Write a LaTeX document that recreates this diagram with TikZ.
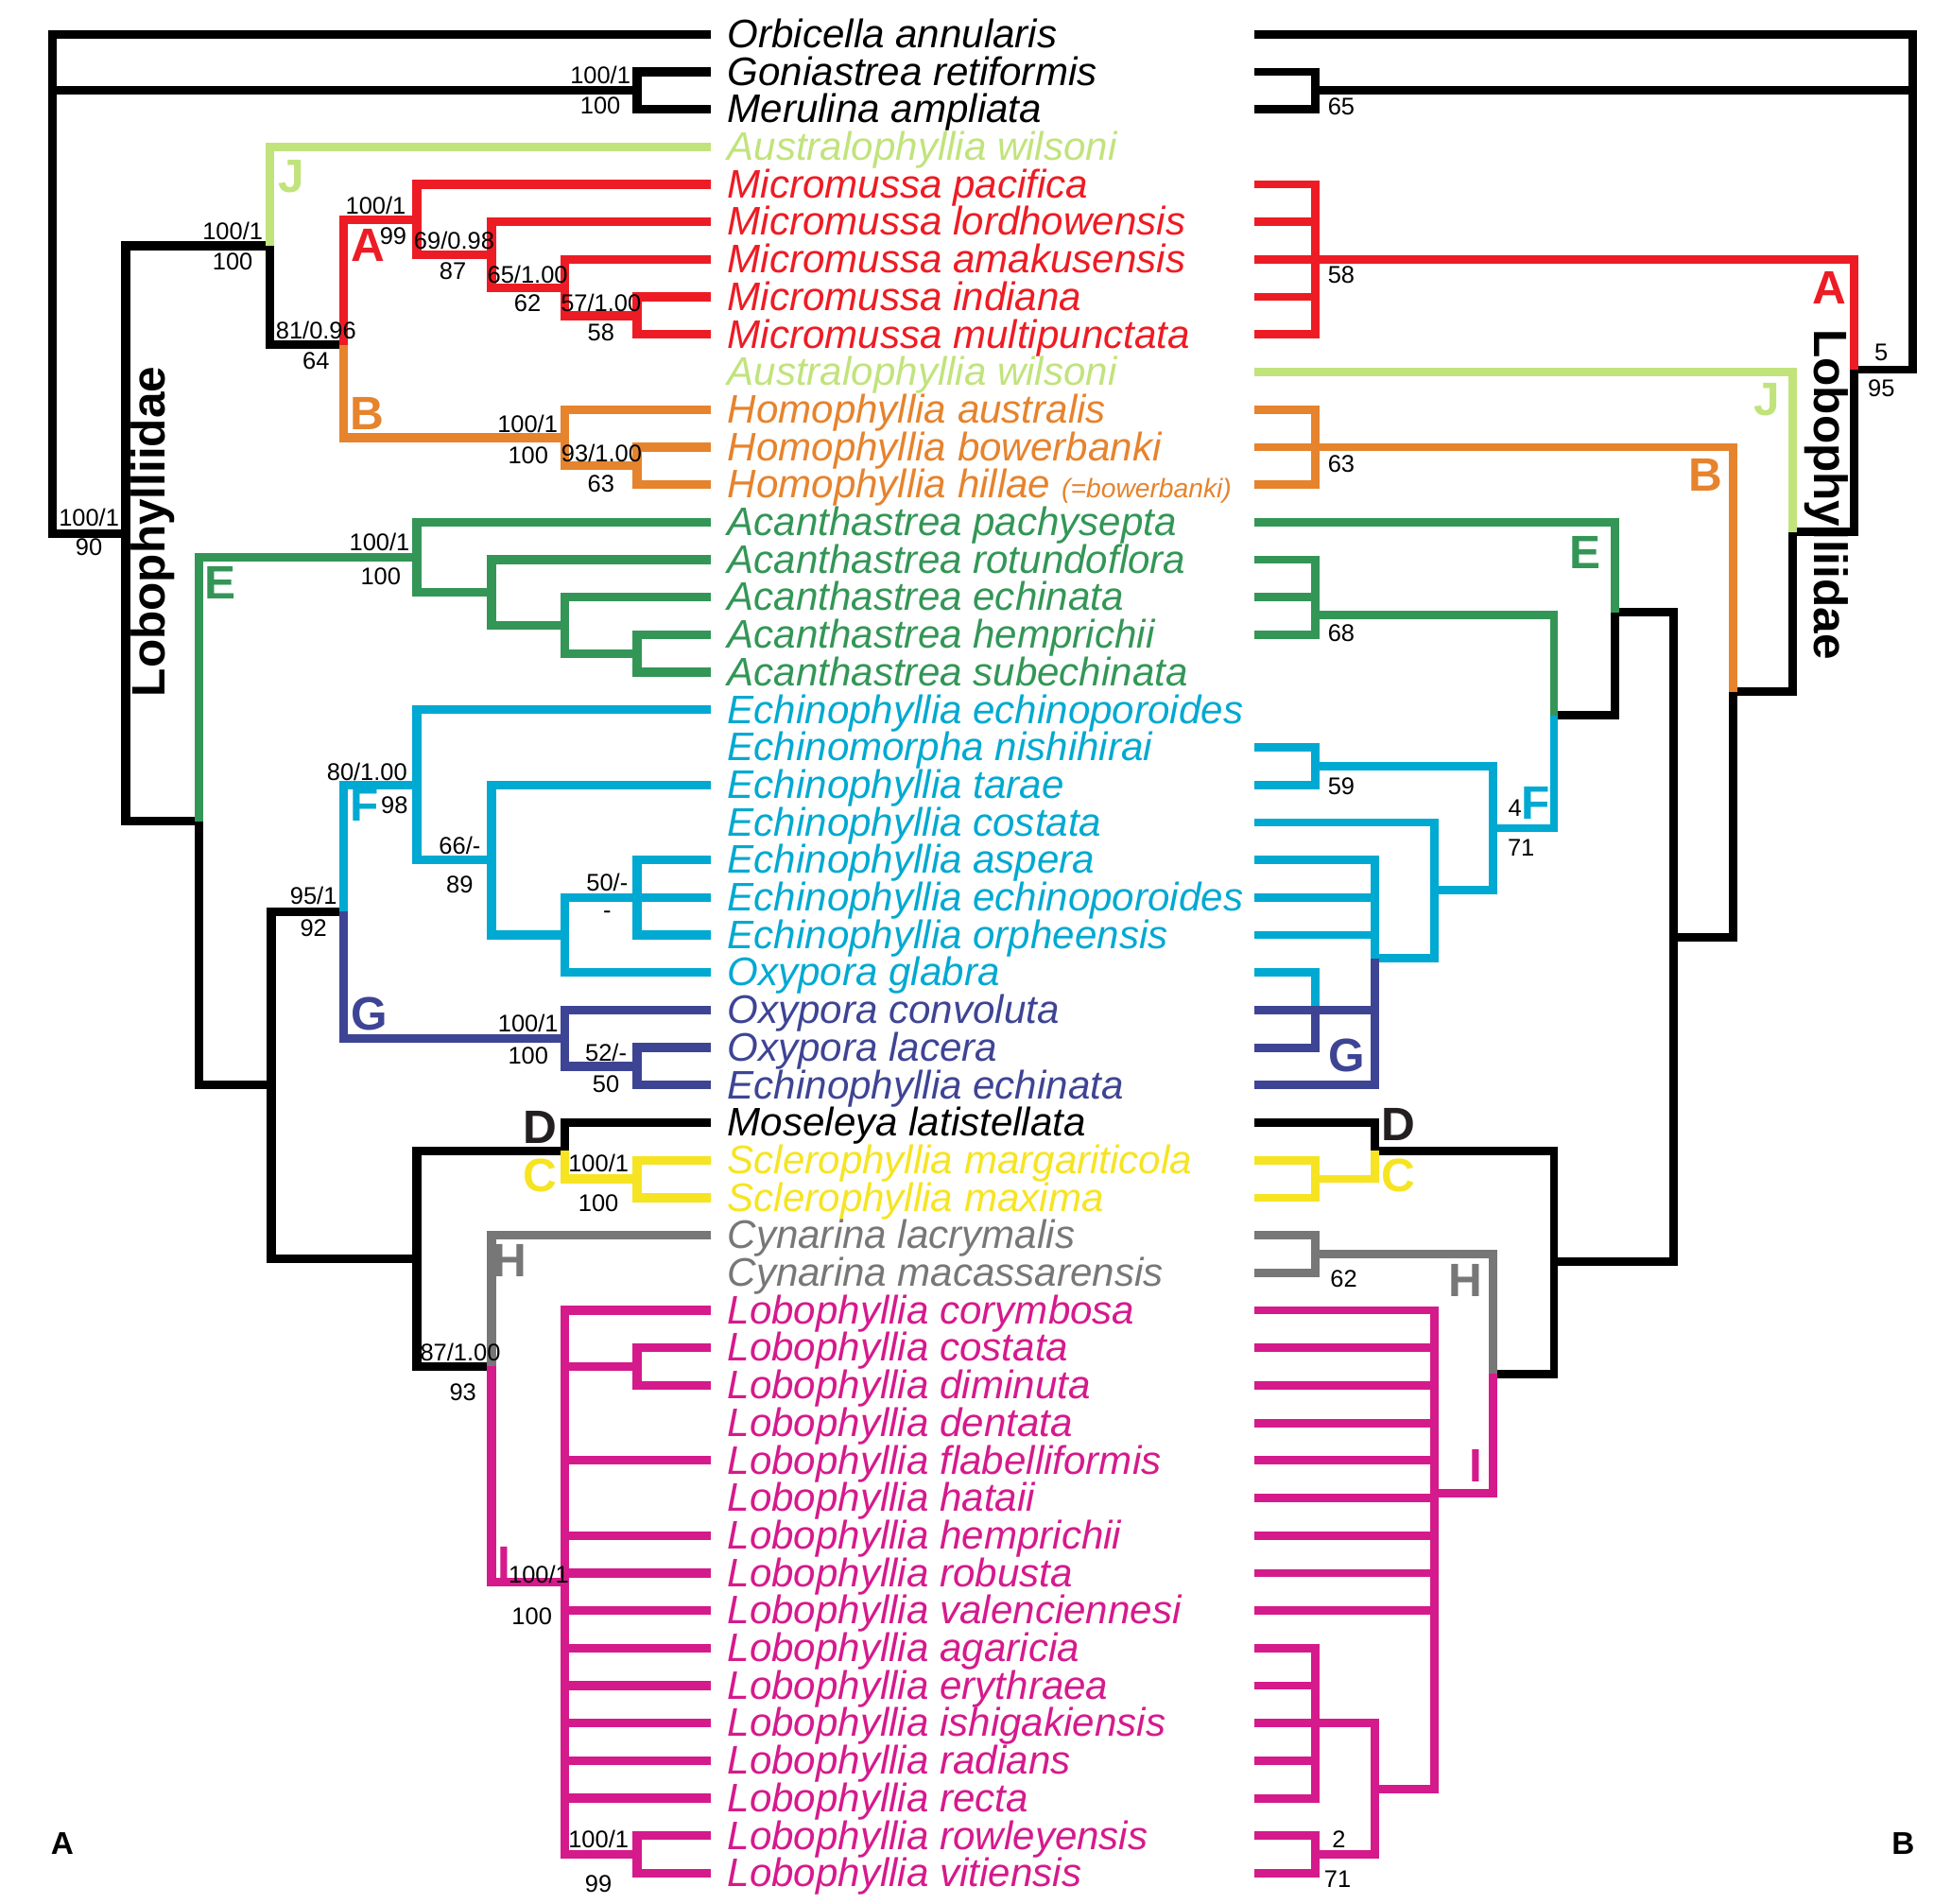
\documentclass[tikz,border=0pt]{standalone}
\usepackage{fontspec}
\setmainfont{Liberation Sans}
\usepackage{xcolor}
\usepackage{tikz}
\definecolor{cladeJ}{RGB}{193,227,124}
\definecolor{cladeA}{RGB}{237,28,36}
\definecolor{cladeB}{RGB}{230,131,45}
\definecolor{cladeE}{RGB}{51,150,86}
\definecolor{cladeF}{RGB}{0,169,209}
\definecolor{cladeG}{RGB}{62,68,148}
\definecolor{cladeC}{RGB}{246,228,35}
\definecolor{cladeH}{RGB}{119,119,119}
\definecolor{cladeI}{RGB}{213,26,140}
\definecolor{cladeD}{RGB}{35,31,32}

\begin{document}
\begin{tikzpicture}[x=0.01cm, y=-0.01cm, every node/.style={inner sep=0pt},
    tip/.style={anchor=base west, font=\fontsize{9.1}{10}\selectfont\itshape},
    supp/.style={font=\fontsize{5.5}{6}\selectfont},
    clade/.style={font=\fontsize{10.7}{12}\selectfont\bfseries},
    panel/.style={font=\fontsize{7.2}{8}\selectfont\bfseries},
    branchL/.style={line width=2pt},
    branchR/.style={line width=1.9pt}]
    \useasboundingbox (0,0) rectangle (1568,1530);
    \foreach \i in {1,...,50}{
        \pgfmathsetmacro{\yy}{30.16*\i-2.66}
        \coordinate (l\i) at (571,\yy);
        \coordinate (r\i) at (1008,\yy);
        \coordinate (b\i) at (584,\yy+10.8);
    }
    \node[tip, black] (t1) at (b1) {Orbicella annularis};
    \node[tip, black] (t2) at (b2) {Goniastrea retiformis};
    \node[tip, black] (t3) at (b3) {Merulina ampliata};
    \node[tip, cladeJ] (t4) at (b4) {Australophyllia wilsoni};
    \node[tip, cladeA] (t5) at (b5) {Micromussa pacifica};
    \node[tip, cladeA] (t6) at (b6) {Micromussa lordhowensis};
    \node[tip, cladeA] (t7) at (b7) {Micromussa amakusensis};
    \node[tip, cladeA] (t8) at (b8) {Micromussa indiana};
    \node[tip, cladeA] (t9) at (b9) {Micromussa multipunctata};
    \node[tip, cladeJ] (t10) at (b10) {Australophyllia wilsoni};
    \node[tip, cladeB] (t11) at (b11) {Homophyllia australis};
    \node[tip, cladeB] (t12) at (b12) {Homophyllia bowerbanki};
    \node[tip, cladeB] (t13) at (b13) {Homophyllia hillae {\fontsize{6.1}{7}\selectfont(=bowerbanki)}};
    \node[tip, cladeE] (t14) at (b14) {Acanthastrea pachysepta};
    \node[tip, cladeE] (t15) at (b15) {Acanthastrea rotundoflora};
    \node[tip, cladeE] (t16) at (b16) {Acanthastrea echinata};
    \node[tip, cladeE] (t17) at (b17) {Acanthastrea hemprichii};
    \node[tip, cladeE] (t18) at (b18) {Acanthastrea subechinata};
    \node[tip, cladeF] (t19) at (b19) {Echinophyllia echinoporoides};
    \node[tip, cladeF] (t20) at (b20) {Echinomorpha nishihirai};
    \node[tip, cladeF] (t21) at (b21) {Echinophyllia tarae};
    \node[tip, cladeF] (t22) at (b22) {Echinophyllia costata};
    \node[tip, cladeF] (t23) at (b23) {Echinophyllia aspera};
    \node[tip, cladeF] (t24) at (b24) {Echinophyllia echinoporoides};
    \node[tip, cladeF] (t25) at (b25) {Echinophyllia orpheensis};
    \node[tip, cladeF] (t26) at (b26) {Oxypora glabra};
    \node[tip, cladeG] (t27) at (b27) {Oxypora convoluta};
    \node[tip, cladeG] (t28) at (b28) {Oxypora lacera};
    \node[tip, cladeG] (t29) at (b29) {Echinophyllia echinata};
    \node[tip, black] (t30) at (b30) {Moseleya latistellata};
    \node[tip, cladeC] (t31) at (b31) {Sclerophyllia margariticola};
    \node[tip, cladeC] (t32) at (b32) {Sclerophyllia maxima};
    \node[tip, cladeH] (t33) at (b33) {Cynarina lacrymalis};
    \node[tip, cladeH] (t34) at (b34) {Cynarina macassarensis};
    \node[tip, cladeI] (t35) at (b35) {Lobophyllia corymbosa};
    \node[tip, cladeI] (t36) at (b36) {Lobophyllia costata};
    \node[tip, cladeI] (t37) at (b37) {Lobophyllia diminuta};
    \node[tip, cladeI] (t38) at (b38) {Lobophyllia dentata};
    \node[tip, cladeI] (t39) at (b39) {Lobophyllia flabelliformis};
    \node[tip, cladeI] (t40) at (b40) {Lobophyllia hataii};
    \node[tip, cladeI] (t41) at (b41) {Lobophyllia hemprichii};
    \node[tip, cladeI] (t42) at (b42) {Lobophyllia robusta};
    \node[tip, cladeI] (t43) at (b43) {Lobophyllia valenciennesi};
    \node[tip, cladeI] (t44) at (b44) {Lobophyllia agaricia};
    \node[tip, cladeI] (t45) at (b45) {Lobophyllia erythraea};
    \node[tip, cladeI] (t46) at (b46) {Lobophyllia ishigakiensis};
    \node[tip, cladeI] (t47) at (b47) {Lobophyllia radians};
    \node[tip, cladeI] (t48) at (b48) {Lobophyllia recta};
    \node[tip, cladeI] (t49) at (b49) {Lobophyllia rowleyensis};
    \node[tip, cladeI] (t50) at (b50) {Lobophyllia vitiensis};

    \coordinate (rootL) at (42,228);
    \coordinate (gmL) at (512,72.74);
    \coordinate (loboL) at (101,428.6);
    \coordinate (jL) at (217,197.5);
    \coordinate (abL) at (276,277);
    \coordinate (aL) at (335,176.4);
    \coordinate (a2L) at (395,204.69);
    \coordinate (a3L) at (454,231.08);
    \coordinate (a4L) at (512,253.7);
    \coordinate (bL) at (454,351.72);
    \coordinate (b2L) at (512,374.34);
    \coordinate (lowL) at (160,660);
    \coordinate (eL) at (335,447.86);
    \coordinate (e2L) at (395,476.13);
    \coordinate (e3L) at (454,502.52);
    \coordinate (e4L) at (512,525.14);
    \coordinate (midL) at (218,872);
    \coordinate (fgL) at (276,732.5);
    \coordinate (fL) at (335,630.7);
    \coordinate (f2L) at (395,691.02);
    \coordinate (f3L) at (454,751.34);
    \coordinate (f4L) at (512,721.18);
    \coordinate (gL) at (454,834.28);
    \coordinate (g2L) at (512,856.9);
    \coordinate (dhL) at (335,1011.4);
    \coordinate (dcL) at (454,924.8);
    \coordinate (cL) at (512,947.38);
    \coordinate (hiL) at (395,1098);
    \coordinate (iL) at (454,1271.6);
    \coordinate (i2L) at (512,1098.18);
    \coordinate (i3L) at (512,1490.26);

    \draw[branchL] (rootL) |- (l1) (rootL) |- (gmL) (rootL) |- (loboL) (gmL) |- (l2) (gmL) |- (l3);
    \draw[branchL] (loboL) |- (jL) (loboL) |- (lowL) (jL) |- (abL);
    \draw[branchL, cladeJ] (jL) |- (l4);
    \draw[branchL, cladeA] (abL) |- (aL) (aL) |- (l5) (aL) |- (a2L) (a2L) |- (l6) (a2L) |- (a3L) (a3L) |- (l7) (a3L) |- (a4L) (a4L) |- (l8) (a4L) |- (l9);
    \draw[branchL, cladeB] (abL) |- (bL) (bL) |- (l11) (bL) |- (b2L) (b2L) |- (l12) (b2L) |- (l13);
    \draw[branchL, cladeE] (lowL) |- (eL) (eL) |- (l14) (eL) |- (e2L) (e2L) |- (l15) (e2L) |- (e3L) (e3L) |- (l16) (e3L) |- (e4L) (e4L) |- (l17) (e4L) |- (l18);
    \draw[branchL] (lowL) |- (midL) (midL) |- (fgL) (midL) |- (dhL);
    \draw[branchL, cladeF] (fgL) |- (fL) (fL) |- (l19) (fL) |- (f2L) (f2L) |- (l21) (f2L) |- (f3L) (f3L) |- (f4L) (f3L) |- (l26) (f4L) |- (l23) (f4L) |- (l24) (f4L) |- (l25);
    \draw[branchL, cladeG] (fgL) |- (gL) (gL) |- (l27) (gL) |- (g2L) (g2L) |- (l28) (g2L) |- (l29);
    \draw[branchL] (dhL) |- (dcL) (dhL) |- (hiL) (dcL) |- (l30);
    \draw[branchL, cladeC] (dcL) |- (cL) (cL) |- (l31) (cL) |- (l32);
    \draw[branchL, cladeH] (hiL) |- (l33);
    \draw[branchL, cladeI] (hiL) |- (iL) (iL) |- (i2L) (i2L) |- (l36) (i2L) |- (l37) (iL) |- (i3L) (i3L) |- (l49) (i3L) |- (l50);
    \foreach \k in {35,39,41,42,43,44,45,46,47,48}
        \draw[branchL, cladeI] (iL) |- (l\k);

    \coordinate (rootR) at (1537,150);
    \coordinate (gmR) at (1057,72.74);
    \coordinate (loboR) at (1490,297);
    \coordinate (aR) at (1057,208.46);
    \coordinate (jR) at (1441,427.5);
    \coordinate (bbR) at (1393,556);
    \coordinate (bR) at (1057,359.26);
    \coordinate (spR) at (1345,753);
    \coordinate (eeR) at (1298,492);
    \coordinate (efR) at (1249,575);
    \coordinate (eR) at (1057,494);
    \coordinate (fR) at (1200,665.5);
    \coordinate (f2R) at (1057,615.62);
    \coordinate (f3R) at (1153,715.4);
    \coordinate (f4R) at (1105,770);
    \coordinate (gR) at (1057,811.66);
    \coordinate (dhR) at (1249,1014);
    \coordinate (dcR) at (1105,924.8);
    \coordinate (cR) at (1057,947.38);
    \coordinate (hiR) at (1200,1104);
    \coordinate (hR) at (1057,1007.7);
    \coordinate (iR) at (1153,1200);
    \coordinate (i2R) at (1105,1437.6);
    \coordinate (i3R) at (1057,1384.7);
    \coordinate (i4R) at (1057,1490.26);

    \draw[branchR] (rootR) |- (r1) (rootR) |- (gmR) (rootR) |- (loboR) (gmR) |- (r2) (gmR) |- (r3);
    \draw[branchR, cladeA] (loboR) |- (aR);
    \foreach \k in {5,...,9}
        \draw[branchR, cladeA] (aR) |- (r\k);
    \draw[branchR] (loboR) |- (jR) (jR) |- (bbR) (bbR) |- (spR) (spR) |- (eeR) (spR) |- (dhR) (eeR) |- (efR) (dhR) |- (dcR) (dhR) |- (hiR) (dcR) |- (r30);
    \draw[branchR, cladeJ] (jR) |- (r10);
    \draw[branchR, cladeB] (bbR) |- (bR) (bR) |- (r11) (bR) |- (r12) (bR) |- (r13);
    \draw[branchR, cladeE] (eeR) |- (r14) (efR) |- (eR) (eR) |- (r15) (eR) |- (r16) (eR) |- (r17);
    \draw[branchR, cladeF] (efR) |- (fR) (fR) |- (f2R) (f2R) |- (r20) (f2R) |- (r21) (fR) |- (f3R) (f3R) |- (r22) (f3R) |- (f4R) (f4R) |- (r23) (f4R) |- (r24) (f4R) |- (r25) (gR) |- (r26);
    \draw[branchR, cladeG] (f4R) |- (gR) (f4R) |- (r29) (gR) |- (r27) (gR) |- (r28);
    \draw[branchR, cladeC] (dcR) |- (cR) (cR) |- (r31) (cR) |- (r32);
    \draw[branchR, cladeH] (hiR) |- (hR) (hR) |- (r33) (hR) |- (r34);
    \draw[branchR, cladeI] (hiR) |- (iR) (iR) |- (i2R) (i2R) |- (i3R) (i2R) |- (i4R) (i4R) |- (r49) (i4R) |- (r50);
    \foreach \k in {35,...,43}
        \draw[branchR, cladeI] (iR) |- (r\k);
    \foreach \k in {44,...,48}
        \draw[branchR, cladeI] (i3R) |- (r\k);

    \node[supp] (gmLa) at (482.5,60.5) {100/1};
    \node[supp] (gmLb) at (482.5,85) {100};
    \node[supp] (loboLa) at (71.5,415.5) {100/1};
    \node[supp] (loboLb) at (71.5,440) {90};
    \node[supp] (jLa) at (187,185.5) {100/1};
    \node[supp] (jLb) at (187,210) {100};
    \node[supp] (abLa) at (254,265.5) {81/0.96};
    \node[supp] (abLb) at (254,290) {64};
    \node[supp] (aLa) at (302,165) {100/1};
    \node[supp] (aLb) at (316,190) {99};
    \node[supp] (a2La) at (365,193.5) {69/0.98};
    \node[supp] (a2Lb) at (364,217.5) {87};
    \node[supp] (a3La) at (424,220.5) {65/1.00};
    \node[supp] (a3Lb) at (424,244) {62};
    \node[supp] (a4La) at (483,243.5) {57/1.00};
    \node[supp] (a4Lb) at (483,267) {58};
    \node[supp] (bLa) at (424,341) {100/1};
    \node[supp] (bLb) at (424.5,366) {100};
    \node[supp] (b2La) at (483.5,364.5) {93/1.00};
    \node[supp] (b2Lb) at (483,389) {63};
    \node[supp] (eLa) at (305,435.5) {100/1};
    \node[supp] (eLb) at (306,463) {100};
    \node[supp] (fLa) at (295,620) {80/1.00};
    \node[supp] (fLb) at (317,647) {98};
    \node[supp] (f2La) at (369.5,679.5) {66/-};
    \node[supp] (f2Lb) at (369.5,710.5) {89};
    \node[supp] (f4La) at (488,709) {50/-};
    \node[supp] (f4Lb) at (488,735) {-};
    \node[supp] (fgLa) at (252,720) {95/1};
    \node[supp] (fgLb) at (252,746) {92};
    \node[supp] (gLa) at (424.5,822) {100/1};
    \node[supp] (gLb) at (424.5,848) {100};
    \node[supp] (g2La) at (487,846) {52/-};
    \node[supp] (g2Lb) at (487,871) {50};
    \node[supp] (cLa) at (481,935) {100/1};
    \node[supp] (cLb) at (481,967) {100};
    \node[supp] (hiLa) at (370,1087) {87/1.00};
    \node[supp] (hiLb) at (372,1119) {93};
    \node[supp] (iLa) at (433,1265) {100/1};
    \node[supp] (iLb) at (427.5,1299) {100};
    \node[supp] (i3La) at (481,1478) {100/1};
    \node[supp] (i3Lb) at (481,1513.5) {99};

    \node[supp] (gmRb) at (1078,85.5) {65};
    \node[supp] (aRb) at (1078,221) {58};
    \node[supp] (bRb) at (1078,373) {63};
    \node[supp] (eRb) at (1078,509) {68};
    \node[supp] (f2Rb) at (1078,632) {59};
    \node[supp] (fRa) at (1217.5,649.5) {4};
    \node[supp] (fRb) at (1222.5,681.5) {71};
    \node[supp] (hRb) at (1080,1028) {62};
    \node[supp] (i4Ra) at (1076,1478) {2};
    \node[supp] (i4Rb) at (1075,1510) {71};
    \node[supp] (loboRa) at (1512,283) {5};
    \node[supp] (loboRb) at (1512,312) {95};

    \node[clade, cladeJ] (labJL) at (234,142) {J};
    \node[clade, cladeA] (labAL) at (296,197) {A};
    \node[clade, cladeB] (labBL) at (295,332) {B};
    \node[clade, cladeE] (labEL) at (177,468) {E};
    \node[clade, cladeF] (labFL) at (293,647) {F};
    \node[clade, cladeG] (labGL) at (297,815) {G};
    \node[clade, cladeD] (labDL) at (434,906) {D};
    \node[clade, cladeC] (labCL) at (434,945) {C};
    \node[clade, cladeH] (labHL) at (410,1013) {H};
    \node[clade, cladeI] (labIL) at (405,1256) {I};
    \node[clade, cladeA] (labAR) at (1470,231) {A};
    \node[clade, cladeJ] (labJR) at (1420,321) {J};
    \node[clade, cladeB] (labBR) at (1371,381.5) {B};
    \node[clade, cladeE] (labER) at (1274,444) {E};
    \node[clade, cladeF] (labFR) at (1234,645) {F};
    \node[clade, cladeG] (labGR) at (1082,848.5) {G};
    \node[clade, cladeD] (labDR) at (1124,904) {D};
    \node[clade, cladeC] (labCR) at (1124,945) {C};
    \node[clade, cladeH] (labHR) at (1178,1029) {H};
    \node[clade, cladeI] (labIR) at (1186,1178) {I};

    \node[clade, rotate=90] (famL) at (123,427.3) {Lobophylliidae};
    \node[clade, rotate=-90] (famR) at (1468,397.3) {Lobophylliidae};
    \node[panel] (panA) at (50,1481.7) {A};
    \node[panel] (panB) at (1529.6,1481.4) {B};
\end{tikzpicture}
\end{document}
